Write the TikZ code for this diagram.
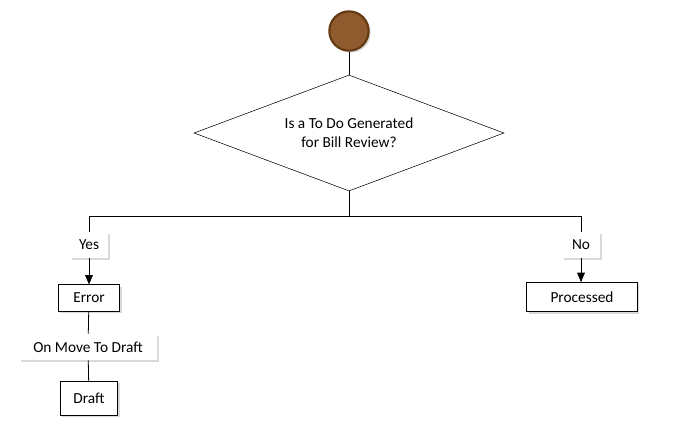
\documentclass[tikz,border=0pt]{standalone}
\usepackage{fontspec}
\setmainfont{Carlito}
\usepackage{tikz}
\usetikzlibrary{shapes,shapes.geometric,shadows}
\usetikzlibrary{calc,arrows,positioning}
\definecolor{brownfill}{HTML}{8E5A2E}
\definecolor{browndraw}{HTML}{633A12}
\tikzset{
  start/.style={circle, draw=browndraw, fill=brownfill, line width=1.6pt,
  minimum size=29.5pt, inner sep=0pt,
  drop shadow={shadow xshift=1.5pt, shadow yshift=-1.5pt, opacity=.3}},
  decision/.style={diamond, draw, fill=white, aspect=2.67, inner sep=0pt,
  minimum width=232.5pt, minimum height=87pt, align=center,
  font=\fontsize{11.5}{14}\selectfont},
  state/.style={draw, fill=white, text centered, inner sep=2pt,
  font=\fontsize{11.5}{13}\selectfont,
  drop shadow={shadow xshift=1.5pt, shadow yshift=-1.5pt, opacity=.3}},
  guard/.style={fill=white, text centered, inner sep=2pt,
  font=\fontsize{11.5}{13}\selectfont, minimum height=19.5pt,
  drop shadow={shadow xshift=1.5pt, shadow yshift=-1.5pt, opacity=.3}},
  flow/.style={line width=.6pt}
}
\begin{document}
\begin{tikzpicture}[x=.75pt,y=-.75pt]
\useasboundingbox (0,0) rectangle (675,430);
\node[start] (init) at (349,31) {};
\node[decision] (bill) at (349,133) {Is a To Do Generated\\for Bill Review?};
\coordinate (split) at (349,216);
\node[guard, minimum width=28.5pt] (yes) at (89,245) {Yes};
\node[state, minimum width=46pt, minimum height=20pt] (error) at (89,298) {Error};
\node[guard, minimum width=104pt] (move) at (88,347) {On Move To Draft};
\node[state, minimum width=43pt, minimum height=25.5pt] (draft) at (89,398) {Draft};
\node[guard, minimum width=28.5pt] (no) at (581,245) {No};
\node[state, minimum width=83pt, minimum height=22pt] (done) at (582,297) {Processed};
% connectors
\draw[flow] (init) -- (bill.north);
\draw[flow] (bill.south) -- (split);
\draw[flow] (split) -| (yes.north);
\draw[flow] (split) -| (no.north);
\draw[flow,-triangle 45] (yes) -- (error);
\draw[flow,-triangle 45] (no) -- (no |- done.north);
\draw[flow] (error) -- (move);
\draw[flow] (move) -- (draft);
\end{tikzpicture}
\end{document}
